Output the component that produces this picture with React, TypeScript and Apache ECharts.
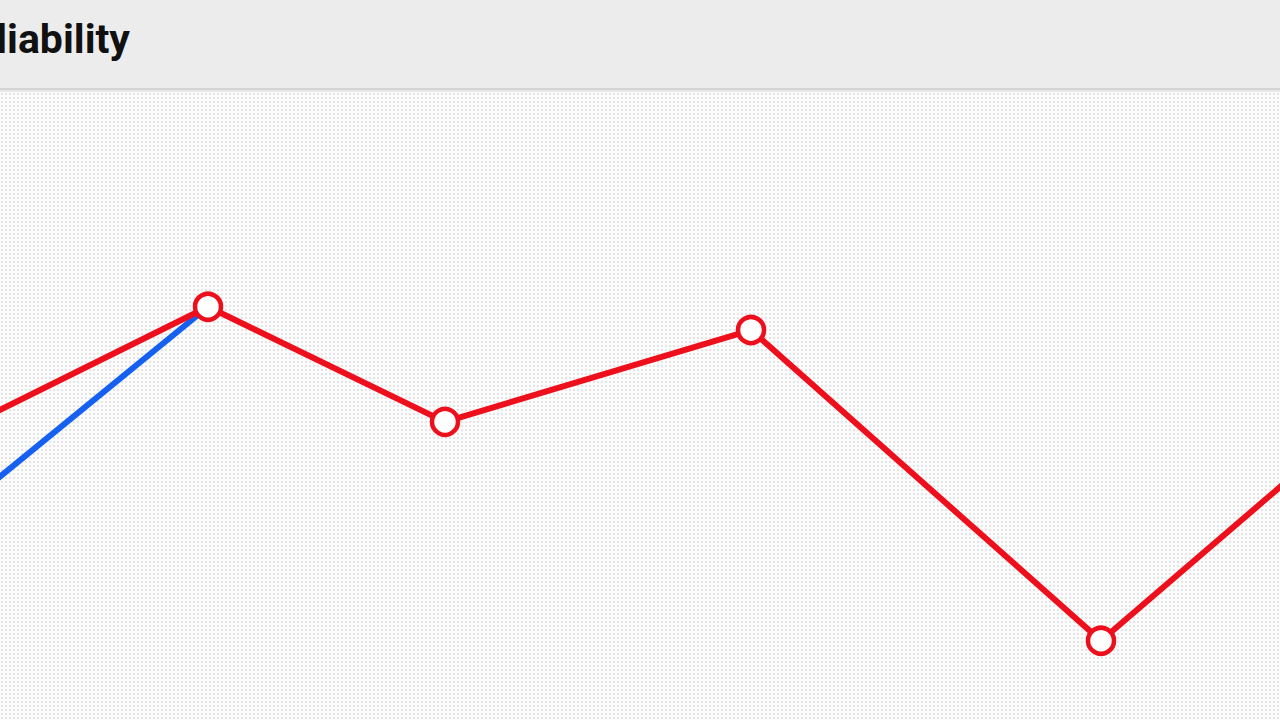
import React, { useEffect, useRef } from "react";
import * as echarts from "echarts";

const titleText = "Reliability";
// x: time units, y: reliability score (0-100)
const redX = [-15, 20.8, 44.5, 75.1, 110.1, 135];
const redY = [37.5, 65.7, 47.4, 62.0, 12.6, 46.6];
const blueX = [-15, 20.8];
const blueY = [19.2, 65.7];
const redMarkerIdx = [1, 2, 3, 4];

export default function App() {
  const ref = useRef<HTMLDivElement>(null);
  useEffect(() => {
    if (!ref.current) return;
    const chart = echarts.init(ref.current, undefined, { renderer: "svg" });
    const red = redX.map((x, i) => ({
      value: [x, redY[i]],
      symbol: redMarkerIdx.includes(i) ? "circle" : "none",
    }));
    const blue = blueX.map((x, i) => [x, blueY[i]]);
    chart.setOption({
      animation: false,
      backgroundColor: "transparent",
      grid: { left: 0, right: 0, top: 91, bottom: 0 },
      xAxis: { type: "value", min: 0, max: 128, show: false },
      yAxis: { type: "value", min: 0, max: 100, show: false },
      graphic: [
        { type: "rect", shape: { x: 0, y: 0, width: 1280, height: 88 }, style: { fill: "#ececec" }, z: 10 },
        { type: "rect", shape: { x: 0, y: 88, width: 1280, height: 2 }, style: { fill: "#d4d4d4" }, z: 10 },
        { type: "rect", shape: { x: 0, y: 90, width: 1280, height: 2 }, style: { fill: "#e8e8e8" }, z: 10 },
        {
          type: "text",
          x: 130,
          y: 39,
          z: 11,
          style: {
            text: titleText,
            fill: "#111",
            font: "bold 41px Roboto, 'Noto Sans', sans-serif",
            textAlign: "right",
            textVerticalAlign: "middle",
          },
        },
      ],
      series: [
        {
          type: "line",
          data: blue,
          symbol: "none",
          lineStyle: { color: "#1560f0", width: 6 },
          z: 2,
        },
        {
          type: "line",
          data: red,
          symbolSize: 26,
          itemStyle: { color: "#fff", borderColor: "#ee0f1d", borderWidth: 4.5 },
          lineStyle: { color: "#ee0f1d", width: 6 },
          z: 3,
        },
      ],
    });
    return () => chart.dispose();
  }, []);
  return (
    <div
      style={{
        position: "fixed",
        left: 0,
        top: 0,
        width: 1280,
        height: 720,
        backgroundColor: "#fcfcfc",
        backgroundImage: "radial-gradient(#e2e2e2 0.7px, transparent 0.8px)",
        backgroundSize: "4px 4px",
      }}
    >
      <div ref={ref} style={{ width: 1280, height: 720 }} />
    </div>
  );
}
